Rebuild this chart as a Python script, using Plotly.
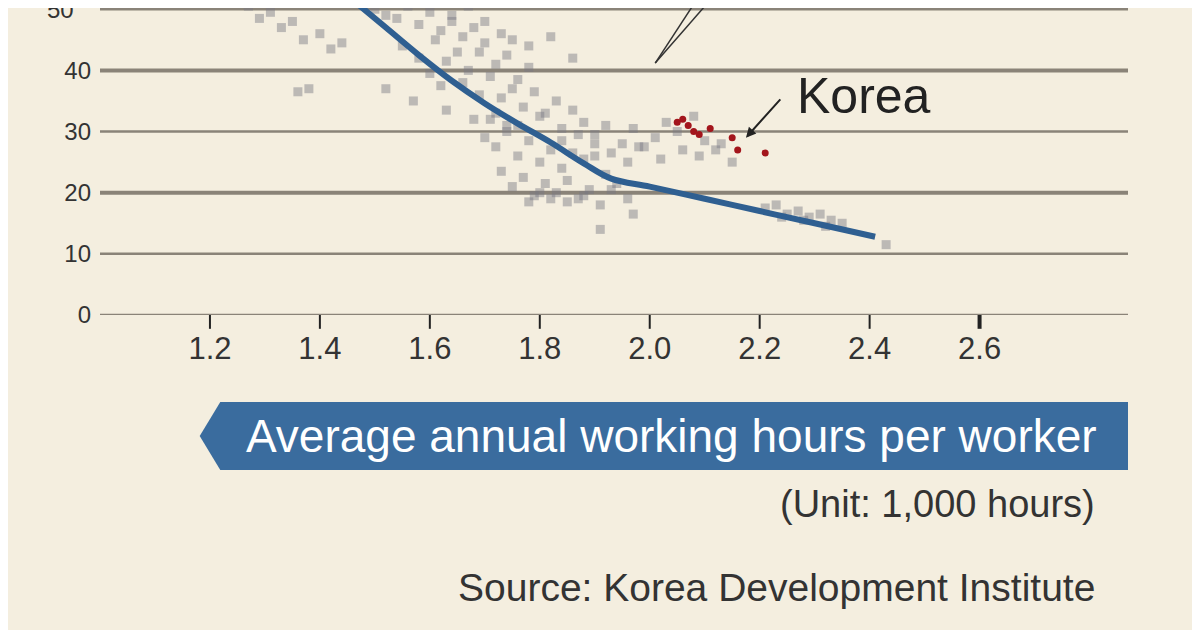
import plotly.graph_objects as go

# grey scatter: countries/years (hours in 1,000, productivity)
grey_x = [1.27, 1.29, 1.31, 1.33, 1.35, 1.37, 1.40, 1.42, 1.44, 1.38, 1.36,
          1.47, 1.50, 1.52, 1.54, 1.56, 1.58, 1.60, 1.62, 1.64, 1.66, 1.68,
          1.55, 1.58, 1.61, 1.63, 1.65, 1.67, 1.70, 1.72, 1.74, 1.76, 1.78,
          1.60, 1.62, 1.66, 1.69, 1.71, 1.73, 1.75, 1.77, 1.79, 1.81, 1.83,
          1.52, 1.57, 1.63, 1.68, 1.72, 1.76, 1.80, 1.84, 1.86, 1.88,
          1.70, 1.72, 1.74, 1.76, 1.78, 1.80, 1.82, 1.84, 1.86, 1.88, 1.90,
          1.73, 1.75, 1.77, 1.79, 1.81, 1.83, 1.85, 1.87, 1.89, 1.92, 1.94,
          1.78, 1.80, 1.82, 1.85, 1.88, 1.91, 1.93, 1.96,
          1.90, 1.92, 1.95, 1.97, 1.99, 2.01, 2.03, 2.05, 2.08, 2.10, 2.12,
          1.93, 1.96, 1.98, 2.02, 2.06, 2.09, 2.13, 2.15,
          2.21, 2.23, 2.25, 2.27, 2.29, 2.31, 2.33, 2.35, 2.24, 2.28, 2.32,
          1.91, 1.97, 2.43, 1.82, 1.86,
          1.64, 1.67, 1.70, 1.73, 1.69, 1.75, 1.78, 1.71, 1.74, 1.84, 1.87, 1.90]
grey_y = [50.5, 48.5, 49.5, 47.0, 48.0, 45.0, 46.0, 43.5, 44.5, 37.0, 36.5,
          51.0, 50.0, 49.0, 48.5, 50.5, 47.5, 49.5, 46.5, 48.0, 45.5, 47.0,
          44.0, 42.0, 45.0, 41.5, 43.0, 40.0, 44.5, 41.0, 42.5, 38.5, 40.5,
          39.5, 37.5, 38.0, 36.0, 39.0, 35.5, 37.0, 34.0, 36.5, 33.0, 35.0,
          37.0, 35.0, 33.5, 32.0, 33.0, 31.0, 32.5, 30.5, 33.5, 31.5,
          29.0, 27.5, 30.0, 26.0, 28.5, 25.0, 27.0, 24.0, 26.5, 25.5, 28.0,
          23.5, 21.0, 22.5, 19.5, 21.5, 20.0, 22.0, 19.0, 20.5, 23.0, 21.5,
          18.5, 20.0, 19.0, 18.5, 19.5, 18.0, 20.5, 19.0,
          29.5, 31.0, 28.0, 30.5, 27.5, 29.0, 31.5, 30.0, 32.5, 28.5, 27.0,
          26.5, 25.0, 27.5, 25.5, 27.0, 26.0, 28.0, 25.0,
          17.5, 18.0, 16.5, 17.0, 16.0, 16.5, 15.5, 15.0, 16.0, 15.5, 14.5,
          14.0, 16.5, 11.5, 45.5, 42.0,
          49.0, 50.5, 48.0, 46.0, 43.0, 45.0, 44.0, 32.0, 31.0, 28.5, 29.5, 26.0]

# Korea
korea_x = [2.05, 2.06, 2.07, 2.08, 2.09, 2.11, 2.15, 2.16, 2.21]
korea_y = [31.5, 32.0, 31.0, 30.0, 29.5, 30.5, 29.0, 27.0, 26.5]

# fitted curve
fit_x = [1.46, 1.52, 1.58, 1.64, 1.70, 1.76, 1.82, 1.88, 1.93, 2.00, 2.10, 2.20, 2.30, 2.41]
fit_y = [51.5, 47.0, 42.5, 38.3, 34.6, 31.3, 28.2, 24.8, 22.3, 21.0, 19.0, 17.0, 15.0, 12.8]

x_ticks = [1.2, 1.4, 1.6, 1.8, 2.0, 2.2, 2.4, 2.6]
y_ticks = [0, 10, 20, 30, 40, 50]

BG = "#f4eedf"
GRID = "#8a8378"
FONT = "Liberation Sans"

fig = go.Figure()
fig.add_trace(go.Scatter(x=grey_x, y=grey_y, mode="markers",
                         marker=dict(color="rgba(120,120,130,0.45)", size=9, symbol="square"),
                         showlegend=False, cliponaxis=True))
fig.add_trace(go.Scatter(x=fit_x, y=fit_y, mode="lines", line=dict(color="#2f5f91", width=6, shape="spline"),
                         showlegend=False))
fig.add_trace(go.Scatter(x=korea_x, y=korea_y, mode="markers",
                         marker=dict(color="#a3151c", size=7), showlegend=False))

# gridlines (20 and 40 heavier)
for v in y_ticks:
    fig.add_shape(type="line", xref="x", yref="y", x0=1.0, x1=2.87, y0=v, y1=v,
                  line=dict(color=GRID, width=4 if v in (20, 40) else 2.5), layer="below")
# x tick marks
for v in x_ticks:
    fig.add_shape(type="line", xref="x", yref="paper", x0=v, x1=v, y0=0, y1=-0.045,
                  line=dict(color="#222", width=4 if v == 2.6 else 2))

# top tick label, partly cut off in the original
fig.add_annotation(xref="paper", yref="y", x=-0.023, y=y_ticks[-1], text=str(y_ticks[-1]), showarrow=False,
                   xanchor="right", yanchor="middle", font=dict(size=24, color="#333", family=FONT))

# callout lines at top
fig.add_shape(type="line", x0=2.01, y0=41.2, x1=2.085, y1=51.5, line=dict(color="#333", width=1.5))
fig.add_shape(type="line", x0=2.01, y0=41.2, x1=2.11, y1=51.5, line=dict(color="#333", width=1.5))

fig.add_annotation(x=2.175, y=29.0, ax=2.24, ay=35.5, axref="x", ayref="y",
                   showarrow=True, arrowhead=2, arrowsize=1, arrowwidth=2, arrowcolor="#222", text="")
fig.add_annotation(x=2.265, y=35.8, text="Korea", showarrow=False, xanchor="left",
                   font=dict(size=50, color="#222", family=FONT))

# bottom banner
fig.add_shape(type="path", xref="paper", yref="paper",
              path="M 0.097 -0.394 L 0.117 -0.283 L 1.0 -0.283 L 1.0 -0.505 L 0.117 -0.505 L 0.097 -0.394 Z",
              fillcolor="#3a6c9e", line=dict(width=0))
fig.add_annotation(xref="paper", yref="paper", x=0.972, y=-0.394, text="Average annual working hours per worker",
                   showarrow=False, xanchor="right", yanchor="middle",
                   font=dict(size=46, color="white", family=FONT))
fig.add_annotation(xref="paper", yref="paper", x=0.97, y=-0.54, text="(Unit: 1,000 hours)",
                   showarrow=False, xanchor="right", yanchor="top",
                   font=dict(size=38, color="#333", family=FONT))
fig.add_annotation(xref="paper", yref="paper", x=0.97, y=-0.81, text="Source: Korea Development Institute",
                   showarrow=False, xanchor="right", yanchor="top",
                   font=dict(size=39, color="#333", family=FONT))

fig.update_xaxes(range=[1.0, 2.87], tickvals=x_ticks, ticktext=[f"{v:.1f}" for v in x_ticks],
                 showgrid=False, zeroline=False, showline=False, ticks="", automargin=False,
                 ticklabelstandoff=12, tickfont=dict(size=31, color="#333", family=FONT))
fig.update_yaxes(range=[0, 50.2], tickvals=y_ticks[:-1], showgrid=False, zeroline=False, ticks="",
                 automargin=False, ticklabelstandoff=8, tickfont=dict(size=24, color="#333", family=FONT))
fig.update_layout(width=1200, height=630, paper_bgcolor=BG, plot_bgcolor=BG,
                  margin=dict(l=92, r=80, t=0, b=323, autoexpand=False), showlegend=False)

fig.write_html("out.html")
